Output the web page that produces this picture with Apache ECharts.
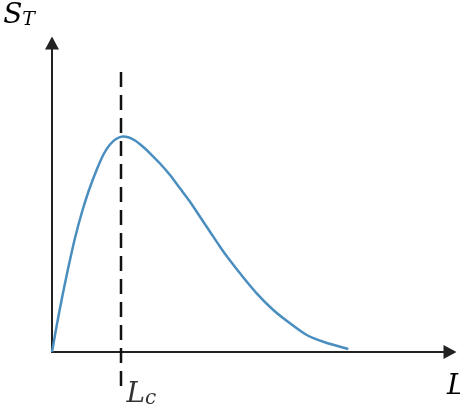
<!DOCTYPE html>
<html>
<head>
<meta charset="utf-8">
<script src="https://cdn.jsdelivr.net/npm/echarts@6/dist/echarts.min.js"></script>
<style>html,body{margin:0;padding:0;background:#fff}#c{width:460px;height:408px}</style>
</head>
<body>
<div id="c"></div>
<script>
// Curve S_T versus L (arbitrary units)
var curveL  = [0, 5, 10, 16, 23, 30, 37, 45, 52, 58, 64, 71, 77, 83, 88, 93, 98, 108, 118, 128, 138, 148, 158, 168, 176.3, 188, 204.7, 221.3, 238, 254.7, 271.3, 296.3];
var curveST = [0, 28, 54, 83, 114, 140, 162, 183, 198.5, 207.5, 213, 215.5, 214.5, 211.5, 207.8, 203.5, 198.7, 188.5, 177, 163.7, 150.3, 135.3, 120.3, 105.3, 93.7, 78.7, 58.7, 42, 28.7, 17, 10.3, 3];
// Critical value Lc (dashed vertical line), extent in ST units (top to bottom)
var Lc = 69;
var lcLineST = [280, -40];
var xMax = 398, yMax = 309;

var curveData = curveL.map(function (x, i) { return [x, curveST[i]]; });
var lcData = lcLineST.map(function (y) { return [Lc, y]; });

var serif = 'DejaVu Serif';
var chart = echarts.init(document.getElementById('c'), null, {renderer: 'canvas'});
chart.setOption({
  animation: false,
  textStyle: {fontFamily: serif},
  grid: {left: 52, right: 10, top: 43, bottom: 56, containLabel: false, outerBoundsMode: 'none'},
  xAxis: {
    type: 'value', min: 0, max: xMax,
    splitLine: {show: false}, axisTick: {show: false}, axisLabel: {show: false},
    axisLine: {lineStyle: {color: '#222', width: 2}, symbol: ['none', 'triangle'], symbolSize: [14, 13]},
    name: 'L', nameLocation: 'end', nameGap: -3,
    nameTextStyle: {fontFamily: serif, fontStyle: 'italic', fontSize: 28, color: '#000', verticalAlign: 'top', padding: [21, 0, 0, 0]}
  },
  yAxis: {
    type: 'value', min: 0, max: yMax,
    splitLine: {show: false}, axisTick: {show: false}, axisLabel: {show: false},
    axisLine: {lineStyle: {color: '#222', width: 2}, symbol: ['none', 'triangle'], symbolSize: [14, 13]},
    name: '{i|S}{s|T}', nameLocation: 'end', nameGap: 13,
    nameTextStyle: {fontFamily: serif, fontStyle: 'italic', fontSize: 28, align: 'right', padding: [0, 17, 0, 0], rich: {
      i: {fontFamily: serif, fontStyle: 'italic', fontSize: 28, lineHeight: 28, color: '#000', verticalAlign: 'top', padding: [0, 0, 5, 0]},
      s: {fontFamily: serif, fontStyle: 'italic', fontSize: 19, lineHeight: 19, color: '#000', verticalAlign: 'bottom'}
    }}
  },
  series: [
    {
      type: 'line', data: curveData, smooth: 0.3, symbol: 'none',
      lineStyle: {color: '#4a8ec0', width: 2.5}
    },
    {
      type: 'line', data: lcData, symbol: 'none', clip: false, silent: true,
      lineStyle: {color: '#111', width: 2.5, type: [15, 8]}
    },
    {
      type: 'scatter', data: [[Lc, lcLineST[1]]], symbolSize: 1, clip: false, silent: true,
      itemStyle: {color: 'rgba(0,0,0,0)'},
      label: {show: true, position: 'right', distance: 5, offset: [0, 3],
        formatter: '{i|L}{s|c}', fontFamily: serif, fontStyle: 'italic', fontSize: 28, color: '#000',
        rich: {
          i: {fontFamily: serif, fontStyle: 'italic', fontSize: 28, lineHeight: 28, color: '#000', verticalAlign: 'top', padding: [0, 0, 7, 0]},
          s: {fontFamily: serif, fontStyle: 'italic', fontSize: 20, lineHeight: 20, color: '#000', verticalAlign: 'bottom'}
        }}
    }
  ]
});
</script>
</body>
</html>
